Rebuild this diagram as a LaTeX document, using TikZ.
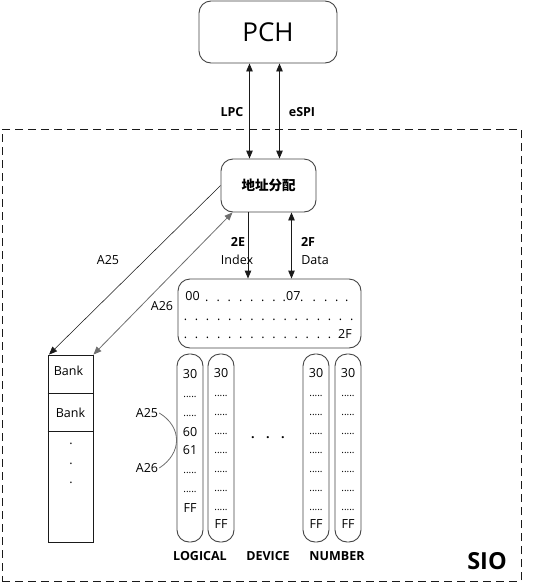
\documentclass[tikz,border=0pt]{standalone}
\usepackage{fontspec}
\setmainfont{Open Sans}
\newfontfamily\cjk{Noto Sans CJK SC}
\usetikzlibrary{arrows.meta}
\definecolor{boxc}{HTML}{444444}
\definecolor{linec}{HTML}{1A1A1A}
\definecolor{grayl}{HTML}{6E6E6E}
\begin{document}
\begin{tikzpicture}[x=1pt,y=-1pt,
  every node/.style={font=\fontsize{12.5}{14}\selectfont, inner sep=0pt, text=black},
  rbox/.style={draw=boxc, line width=0.9pt, rounded corners=12pt},
  pill/.style={draw=boxc, line width=0.9pt, rounded corners=12pt, minimum width=26pt, minimum height=188pt},
  tip/.tip={Triangle[length=8pt,width=6.5pt]},
  arr/.style={draw=linec, line width=0.9pt, -tip},
  darr/.style={draw=linec, line width=0.9pt, tip-tip},
  lbl/.style={font=\fontsize{12.5}{14}\selectfont\bfseries},
  dt/.style={anchor=base},
  sdt/.style={anchor=base, font=\fontsize{10}{12}\selectfont},
  frame/.style={draw=linec, line width=0.9pt, dash pattern=on 8pt off 5pt}
]
\useasboundingbox (0,0) rectangle (547,584);

% SIO frame
\node[frame, minimum width=519pt, minimum height=452pt] (sio) at (261.5,355) {};
\node[font=\fontsize{23.5}{26}\selectfont\bfseries] (siol) at (487,561) {SIO};

% PCH
\node[rbox, minimum width=138pt, minimum height=62pt, font=\fontsize{26}{28}\selectfont] (pch) at (268,32) {PCH};

% address allocation
\node[rbox, minimum width=95pt, minimum height=53pt, font=\fontsize{13.5}{15}\cjk\bfseries] (addr) at (268.5,185.5) {地址分配};

% table
\node[rbox, minimum width=183pt, minimum height=69pt] (tab) at (269.5,313.5) {};

% x coordinates for connectors
\coordinate (xl) at (249.5,0);
\coordinate (xe) at (279.5,0);
\coordinate (xi) at (248,0);
\coordinate (xd) at (291.5,0);
\coordinate (xa) at (232.5,0);

\draw[darr] (pch.south -| xl) -- (addr.north -| xl);
\draw[darr] (pch.south -| xe) -- (addr.north -| xe);
\node[lbl] (lpc) at (232,112) {LPC};
\node[lbl] (espi) at (302,112) {eSPI};

\draw[arr] (addr.south -| xi) -- (tab.north -| xi);
\draw[darr] (addr.south -| xd) -- (tab.north -| xd);
\node[lbl] (l2e) at (238,242) {2E};
\node (lidx) at (237,260) {Index};
\node[lbl] (l2f) at (308,242) {2F};
\node (ldata) at (315,260) {Data};

% table contents
\node (t00) at (192.5,296) {00};
\node (t07) at (293.3,296) {07};
\node (t2f) at (345,334) {2F};
\foreach \x [count=\i] in {206.7,218.3,229.3,240.7,251.7,262.7,274,284.3,301.8,314.3,325.7,336.7,346.7}
  \node[dt] (ta\i) at (\x,301) {.};
\foreach \i in {0,...,15}
  \node[dt] (tb\i) at ({185.5+11.08*\i},320.5) {.};
\foreach \i in {0,...,13}
  \node[dt] (tc\i) at ({185.5+11.08*\i},338.5) {.};

% bank column
\node[draw=linec, line width=0.9pt, minimum width=45pt, minimum height=187pt] (bank) at (70.5,448.5) {};
\coordinate (y1) at (0,393);
\coordinate (y2) at (0,431);
\draw[linec, line width=0.9pt] (bank.west |- y1) -- (bank.east |- y1);
\draw[linec, line width=0.9pt] (bank.west |- y2) -- (bank.east |- y2);
\node (bk1) at (68.5,371) {Bank};
\node (bk2) at (70.5,413) {Bank};
\node[dt] (bd1) at (71,444) {.};
\node[dt] (bd2) at (71,464) {.};
\node[dt] (bd3) at (71,483) {.};

% A25 / A26 lines
\draw[draw=linec, line width=0.55pt, -tip] (addr.west) -- ([xshift=1.5pt]bank.north west);
\draw[draw=grayl, line width=0.8pt, tip-tip] (bank.north east) -- (addr.south -| xa);
\node (a25) at (108,260) {A25};
\node (a26) at (162,306) {A26};

% columns
\node[pill] (c1) at (190,448) {};
\node[pill] (c2) at (221,448) {};
\node[pill] (c3) at (316,448) {};
\node[pill] (c4) at (348,448) {};

\node (c1a) at (190,374) {30};
\node[sdt] (c1b) at (190,397) {.....};
\node[sdt] (c1c) at (190,416) {.....};
\node (c1d) at (190,432) {60};
\node (c1e) at (190,450) {61};
\node[sdt] (c1f) at (190,473) {.....};
\node[sdt] (c1g) at (190,492) {.....};
\node (c1h) at (190,508) {FF};

\foreach \c/\x in {c2/221,c3/316,c4/348}{
  \node (\c top) at (\x,373.5) {30};
  \foreach \y [count=\k] in {396,415,434,453,472,491,510}
    \node[sdt] (\c d\k) at (\x,\y) {.....};
  \node (\c ff) at (\x,524) {FF};
}

% bracket A25 - A26
\node (b25) at (147,413) {A25};
\node (b26) at (147,468) {A26};
\draw[grayl, line width=0.8pt] ([xshift=1pt]b25.east) .. controls (182.3,427) and (182.3,453) .. ([xshift=1pt]b26.east);

% middle dots
\node[dt, font=\fontsize{12.5}{14}\selectfont\bfseries] (m1) at (253,438.5) {.};
\node[dt, font=\fontsize{12.5}{14}\selectfont\bfseries] (m2) at (268,438.5) {.};
\node[dt, font=\fontsize{12.5}{14}\selectfont\bfseries] (m3) at (283,438.5) {.};

% bottom labels
\node[lbl] (lg) at (200,556) {LOGICAL};
\node[lbl] (dv) at (268,556) {DEVICE};
\node[lbl] (nb) at (337,556) {NUMBER};
\end{tikzpicture}
\end{document}
